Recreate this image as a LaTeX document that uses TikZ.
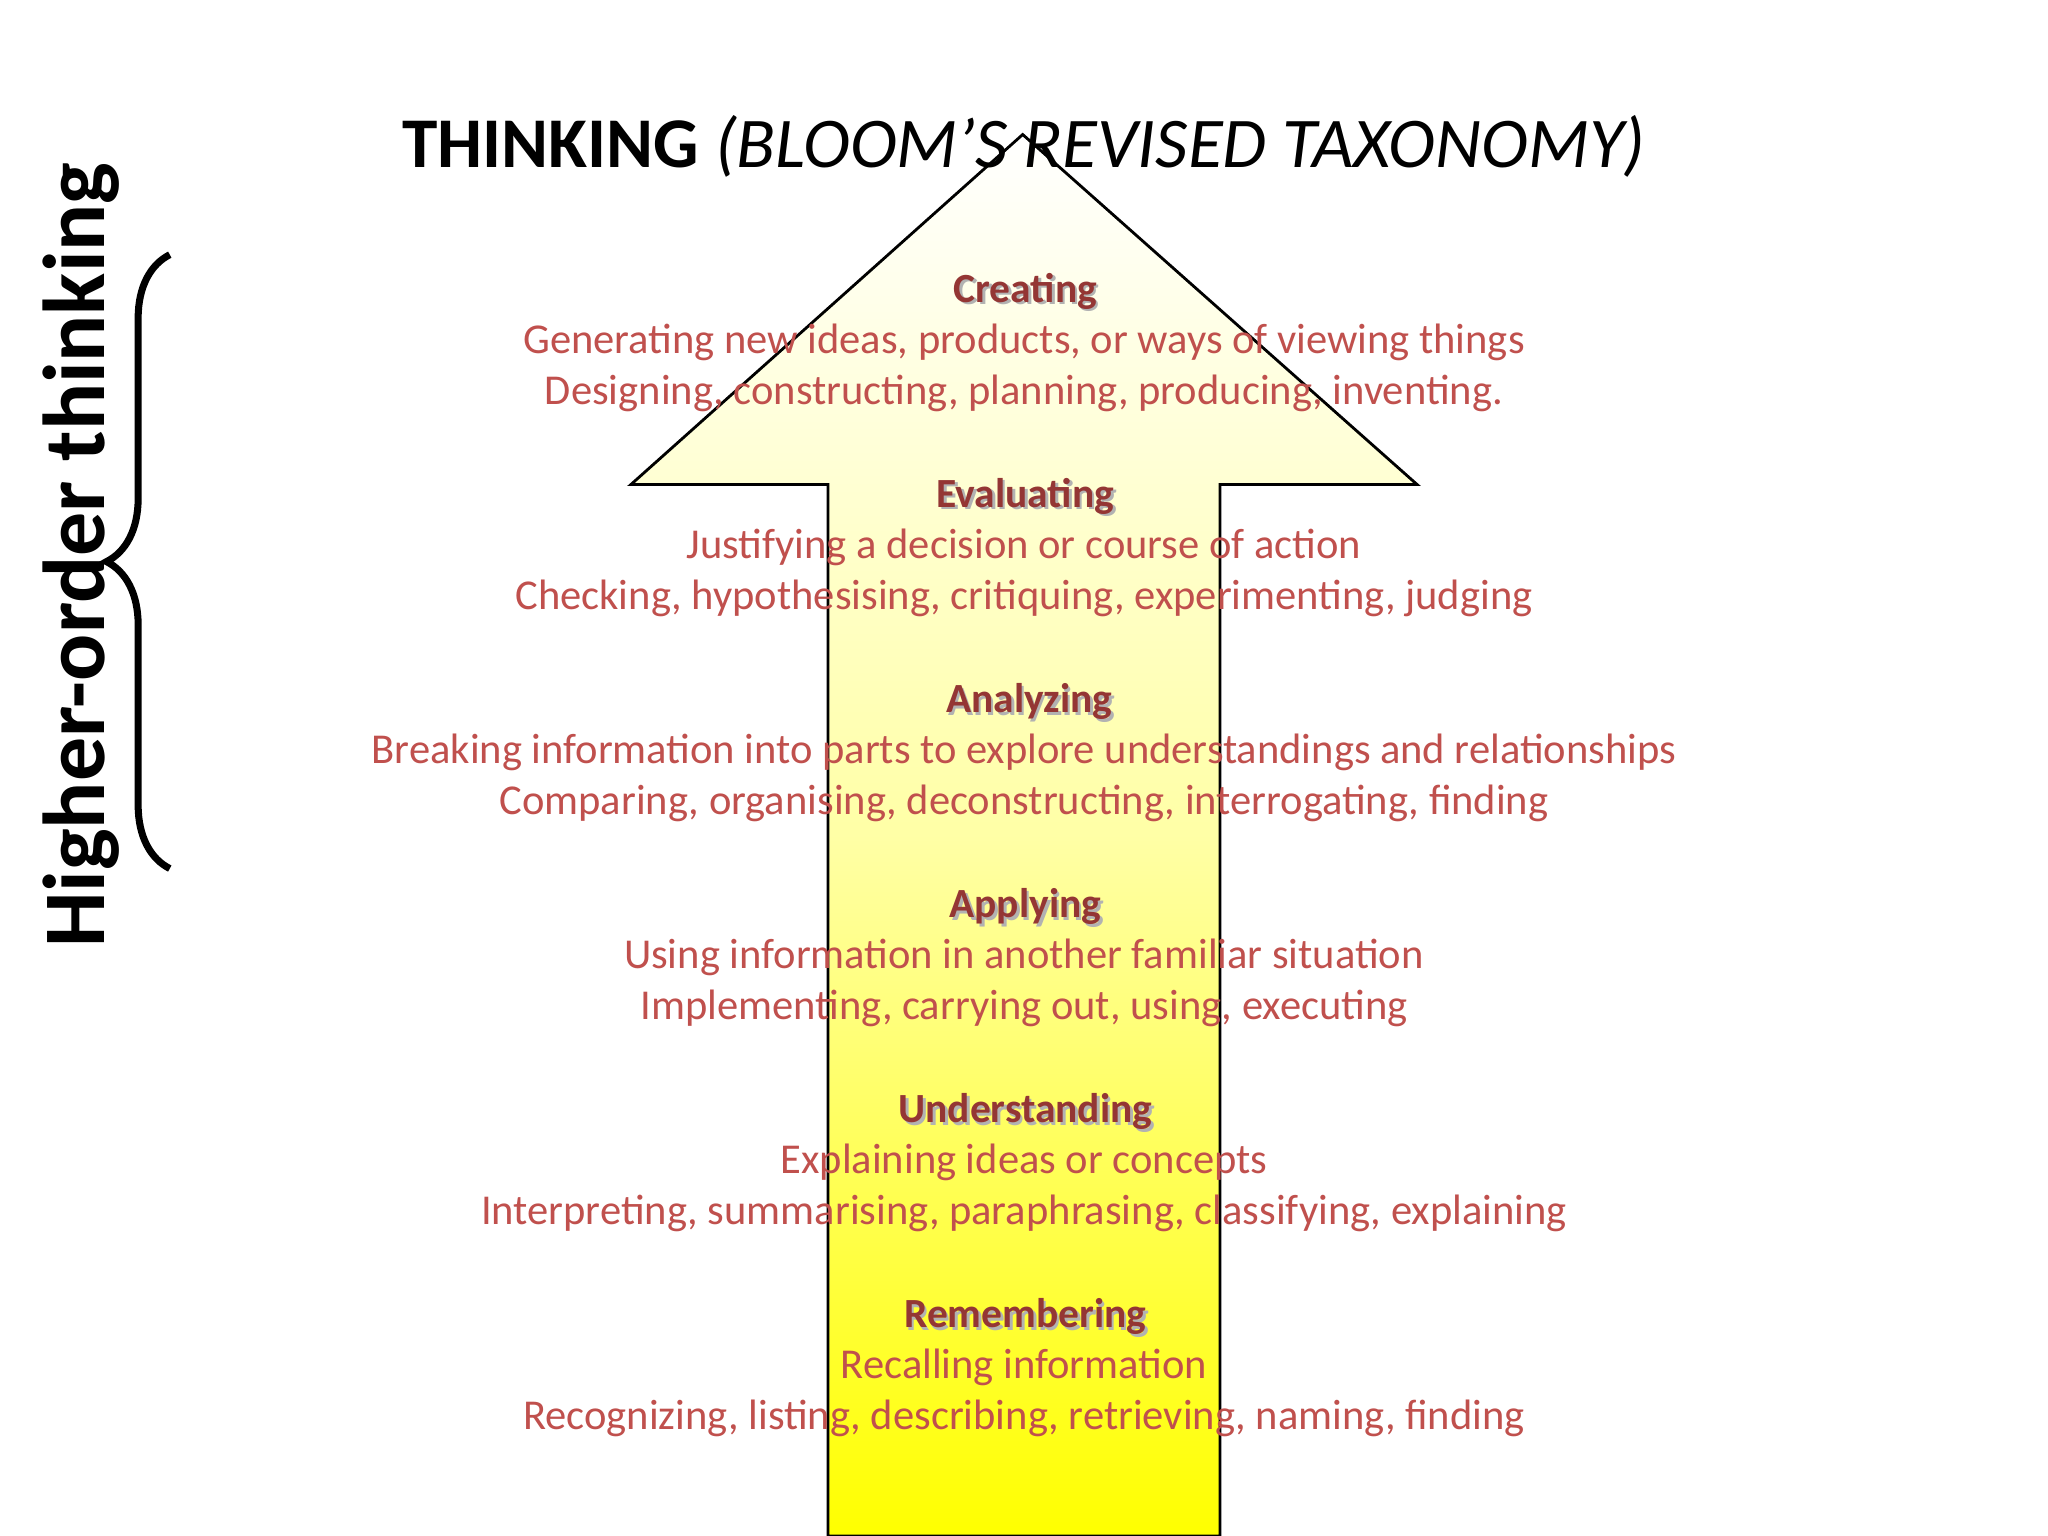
\documentclass[tikz,border=0pt]{standalone}
\usepackage{fontspec}
\setmainfont{Carlito}
\usetikzlibrary{decorations.pathreplacing}
\definecolor{txt}{HTML}{C0504D}
\definecolor{head}{HTML}{943634}
\tikzset{
  body/.style={text=txt,font=\fontsize{12.1pt}{14pt}\selectfont,anchor=center},
  hd/.style={text=head,font=\bfseries\fontsize{11.8pt}{14pt}\selectfont,anchor=center},
  sh/.style={hd,text=gray!60},
}
\begin{document}
\begin{tikzpicture}[x=0.013061cm,y=-0.013061cm]
\useasboundingbox (0,0) rectangle (1568,1176);
\fill[white] (0,0) rectangle (1568,1176);
\shade[top color=white,bottom color=yellow,middle color=yellow!35]
  (783,103) -- (1085,371) -- (934,371) -- (934,1176) -- (634,1176) -- (634,371) -- (483,371) -- cycle;
\draw[line width=0.8pt] (783,103) -- (1085,371) -- (934,371) -- (934,1176) -- (634,1176) -- (634,371) -- (483,371) -- cycle;
\node[font=\fontsize{20.3pt}{24pt}\selectfont] (title) at (784,112) {\textbf{THINKING} \textit{(BLOOM’S REVISED TAXONOMY)}};
\node[sh] at (787,225) {Creating};
\node[hd] (c) at (785,223) {Creating};
\node[body] at (784,262) {Generating new ideas, products, or ways of viewing things};
\node[body] at (784,301) {Designing, constructing, planning, producing, inventing.};
\node[sh] at (787,382) {Evaluating};
\node[hd] (e) at (785,380) {Evaluating};
\node[body] at (784,419) {Justifying a decision or course of action};
\node[body] at (784,458) {Checking, hypothesising, critiquing, experimenting, judging};
\node[sh] at (790,539) {Analyzing};
\node[hd] (a) at (788,537) {Analyzing};
\node[body] at (784,576) {Breaking information into parts to explore understandings and relationships};
\node[body] at (784,615) {Comparing, organising, deconstructing, interrogating, finding};
\node[sh] at (787,696) {Applying};
\node[hd] (p) at (785,694) {Applying};
\node[body] at (784,733) {Using information in another familiar situation};
\node[body] at (784,772) {Implementing, carrying out, using, executing};
\node[sh] at (787,853) {Understanding};
\node[hd] (u) at (785,851) {Understanding};
\node[body] at (784,890) {Explaining ideas or concepts};
\node[body] at (784,929) {Interpreting, summarising, paraphrasing, classifying, explaining};
\node[sh] at (787,1010) {Remembering};
\node[hd] (r) at (785,1008) {Remembering};
\node[body] at (784,1047) {Recalling information};
\node[body] at (784,1086) {Recognizing, listing, describing, retrieving, naming, finding};
\node[rotate=90,font=\bfseries\fontsize{25pt}{28pt}\selectfont] (hot) at (62,425) {Higher-order thinking};
\coordinate (b1) at (130,195);
\coordinate (b2) at (130,665);
\draw[line width=2pt,decorate,decoration={brace,amplitude=18pt}] (b2) -- (b1);
\end{tikzpicture}
\end{document}
